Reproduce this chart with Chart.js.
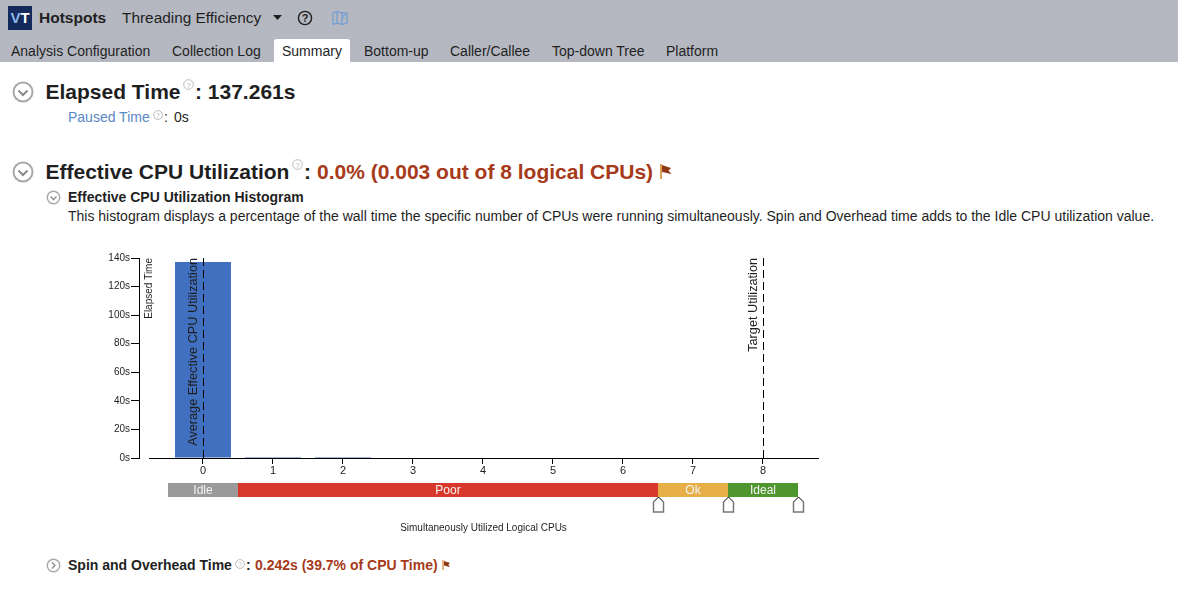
<!DOCTYPE html>
<html>
<head>
<meta charset="utf-8">
<title>Hotspots</title>
<script src="https://cdn.jsdelivr.net/npm/chart.js@4"></script>
<style>
    html, body { margin: 0; padding: 0; background: #fff; }
    body { width: 1178px; height: 597px; overflow: hidden; position: relative; font-family: "Liberation Sans", Arial, sans-serif; color: #1f1f1f; }
    .t { position: absolute; white-space: nowrap; line-height: 1; }
    .b { font-weight: bold; }
    .red { color: #a63a1a; }
    #topo { position: absolute; left: 0; top: 0; width: 1178px; height: 62px; background: #b5b8c1; }
    #aba-ativa { position: absolute; left: 274px; top: 39px; width: 76px; height: 23px; background: #fff; border-radius: 3px 3px 0 0; }
    #logo { position: absolute; left: 8px; top: 6px; width: 24px; height: 24px; background: #14295c; color: #fff; font-weight: bold; font-size: 15px; line-height: 24px; text-align: center; }
    #logo i { font-style: normal; color: #8fb8ea; }
    svg.ic { position: absolute; overflow: visible; }
    #grafico { position: absolute; left: 80px; top: 245px; }
</style>
</head>
<body>
<div id="topo"></div>
<div id="aba-ativa"></div>
<div id="logo"><i>V</i>T</div>
<span class="t b" style="left:39px;top:10px;font-size:15.5px">Hotspots</span>
<span class="t" style="left:122px;top:10px;font-size:15.4px">Threading Efficiency</span>
<svg class="ic" style="left:273px;top:15px" width="10" height="6"><path d="M0 0H9L4.5 5Z" fill="#1f1f1f"/></svg>
<svg class="ic" style="left:297px;top:10px" width="16" height="16"><circle cx="8" cy="8" r="6.6" fill="none" stroke="#1f1f1f" stroke-width="1.4"/><text x="8" y="12" font-size="11" font-weight="bold" text-anchor="middle" fill="#1f1f1f">?</text></svg>
<svg class="ic" style="left:332px;top:9px" width="16" height="16"><path d="M1 4L5 2.5V14L1 15.5ZM5 2.5L10 4V15.5L5 14M10 15.5L15 14V3" fill="none" stroke="#6f9bd6" stroke-width="1.2"/><text x="11.5" y="9" font-size="9" font-weight="bold" text-anchor="middle" fill="#6f9bd6">?</text></svg>

<span class="t" style="left:11px;top:44px;font-size:14px">Analysis Configuration</span>
<span class="t" style="left:172px;top:44px;font-size:14px">Collection Log</span>
<span class="t" style="left:282px;top:44px;font-size:14px">Summary</span>
<span class="t" style="left:364px;top:44px;font-size:14px">Bottom-up</span>
<span class="t" style="left:450px;top:44px;font-size:14px">Caller/Callee</span>
<span class="t" style="left:552px;top:44px;font-size:14px">Top-down Tree</span>
<span class="t" style="left:666px;top:44px;font-size:14px">Platform</span>

<svg class="ic" style="left:12px;top:81px" width="22" height="22"><circle cx="11" cy="11" r="9.5" fill="none" stroke="#a8a8a8" stroke-width="2"/><path d="M6.5 9.5L11 14L15.5 9.5" fill="none" stroke="#8a8a8a" stroke-width="2"/></svg>
<span class="t b" style="left:45.5px;top:81px;font-size:21px">Elapsed Time</span>
<svg class="ic" style="left:183px;top:79px" width="11" height="11"><circle cx="5.5" cy="5.5" r="4.8" fill="none" stroke="#bbb"/><text x="5.5" y="8.5" font-size="8" text-anchor="middle" fill="#bbb">?</text></svg>
<span class="t b" style="left:195px;top:81px;font-size:21px">: 137.261s</span>
<span class="t" style="left:68px;top:110px;font-size:14px;color:#5b87c5">Paused Time</span>
<svg class="ic" style="left:153px;top:110px" width="10" height="10"><circle cx="5" cy="5" r="4.4" fill="none" stroke="#bbb"/><text x="5" y="8" font-size="7" text-anchor="middle" fill="#bbb">?</text></svg>
<span class="t" style="left:164px;top:110px;font-size:14px">:</span>
<span class="t" style="left:174px;top:110px;font-size:14px">0s</span>

<svg class="ic" style="left:12px;top:161px" width="22" height="22"><circle cx="11" cy="11" r="9.5" fill="none" stroke="#a8a8a8" stroke-width="2"/><path d="M6.5 9.5L11 14L15.5 9.5" fill="none" stroke="#8a8a8a" stroke-width="2"/></svg>
<span class="t b" style="left:45.5px;top:161px;font-size:21px">Effective CPU Utilization</span>
<svg class="ic" style="left:292px;top:159px" width="11" height="11"><circle cx="5.5" cy="5.5" r="4.8" fill="none" stroke="#bbb"/><text x="5.5" y="8.5" font-size="8" text-anchor="middle" fill="#bbb">?</text></svg>
<span class="t b" style="left:304px;top:161px;font-size:21px">:</span>
<span class="t b red" style="left:317px;top:161px;font-size:21px">0.0% (0.003 out of 8 logical CPUs)</span>
<svg class="ic" style="left:660px;top:164px" width="13" height="16"><path d="M1 0V15" stroke="#d58a2a" stroke-width="1.6"/><path d="M2 1L11 4L8.5 6.5L11.5 10L2 8Z" fill="#8f3a16"/></svg>

<svg class="ic" style="left:46px;top:190px" width="15" height="15"><circle cx="7.5" cy="7.5" r="6.2" fill="none" stroke="#a8a8a8" stroke-width="1.4"/><path d="M4.5 6.5L7.5 9.5L10.5 6.5" fill="none" stroke="#8a8a8a" stroke-width="1.3"/></svg>
<span class="t b" style="left:68px;top:190px;font-size:14px">Effective CPU Utilization Histogram</span>
<span class="t" style="left:68px;top:209px;font-size:14px">This histogram displays a percentage of the wall time the specific number of CPUs were running simultaneously. Spin and Overhead time adds to the Idle CPU utilization value.</span>

<canvas id="grafico" width="760" height="300"></canvas>

<svg class="ic" style="left:46px;top:558px" width="15" height="15"><circle cx="7.5" cy="7.5" r="6.2" fill="none" stroke="#a8a8a8" stroke-width="1.4"/><path d="M6 4.5L9 7.5L6 10.5" fill="none" stroke="#8a8a8a" stroke-width="1.3"/></svg>
<span class="t b" style="left:68px;top:558px;font-size:14px">Spin and Overhead Time</span>
<svg class="ic" style="left:235px;top:559px" width="10" height="10"><circle cx="5" cy="5" r="4.4" fill="none" stroke="#bbb"/><text x="5" y="8" font-size="7" text-anchor="middle" fill="#bbb">?</text></svg>
<span class="t b" style="left:246px;top:558px;font-size:14px">:</span>
<span class="t b red" style="left:255px;top:558px;font-size:14px">0.242s (39.7% of CPU Time)</span>
<svg class="ic" style="left:442px;top:560px" width="9" height="11"><path d="M1 0V10" stroke="#d58a2a" stroke-width="1.2"/><path d="M2 1L8 3L6.3 4.5L8 7L2 5.5Z" fill="#8f3a16"/></svg>

<script>
const cpus = [0, 1, 2, 3, 4, 5, 6, 7, 8];
const elapsedSeconds = [137.26, 0.7, 0.7, 0, 0, 0, 0, 0, 0];
const yTicks = [0, 20, 40, 60, 80, 100, 120, 140];

const zoneNames = ['Idle', 'Poor', 'Ok', 'Ideal'];
const zoneStarts = [-0.5, 0.5, 6.5, 7.5];
const zoneEnds = [0.5, 6.5, 7.5, 8.5];
const zoneColors = ['#9a9a9a', '#d8372c', '#e8ae48', '#4f962e'];
const zoneMarkers = [6.5, 7.5, 8.5];

const averageUtilization = 0.003;
const targetUtilization = 8;

const FONT = '"Liberation Sans", Arial, sans-serif';

function textoVertical(ctx, texto, x, yTopo, fonte) {
    ctx.save();
    ctx.translate(x, yTopo);
    ctx.rotate(-Math.PI / 2);
    ctx.font = fonte;
    ctx.textAlign = 'right';
    ctx.textBaseline = 'alphabetic';
    ctx.fillStyle = '#1f1f1f';
    ctx.fillText(texto, 0, 0);
    ctx.restore();
}

// eixo x, linhas tracejadas e faixa de zonas
const extras = {
    id: 'extras',
    afterDraw(chart) {
        const { ctx, chartArea, scales } = chart;
        const xs = scales.x;
        const base = scales.y.getPixelForValue(0);

        ctx.save();
        ctx.strokeStyle = '#000';
        ctx.lineWidth = 1;
        ctx.beginPath();
        ctx.moveTo(chartArea.left + 10, base + 0.5);
        ctx.lineTo(chartArea.right, base + 0.5);
        ctx.stroke();

        ctx.setLineDash([8, 4]);
        [averageUtilization, targetUtilization].forEach(v => {
            const px = Math.round(xs.getPixelForValue(v)) + 0.5;
            ctx.beginPath();
            ctx.moveTo(px, chartArea.top);
            ctx.lineTo(px, base);
            ctx.stroke();
        });
        ctx.setLineDash([]);

        textoVertical(ctx, 'Average Effective CPU Utilization', xs.getPixelForValue(averageUtilization) - 6, chartArea.top, '12.7px ' + FONT);
        textoVertical(ctx, 'Target Utilization', xs.getPixelForValue(targetUtilization) - 6, chartArea.top, '12.7px ' + FONT);
        textoVertical(ctx, 'Elapsed Time', chartArea.left + 13, chartArea.top, '10px ' + FONT);

        const zonaTopo = base + 25;
        zoneNames.forEach((nome, i) => {
            const x0 = xs.getPixelForValue(zoneStarts[i]);
            const x1 = xs.getPixelForValue(zoneEnds[i]);
            ctx.fillStyle = zoneColors[i];
            ctx.fillRect(x0, zonaTopo, x1 - x0, 14);
            ctx.fillStyle = '#f4f4f4';
            ctx.font = '12px ' + FONT;
            ctx.textAlign = 'center';
            ctx.textBaseline = 'middle';
            ctx.fillText(nome, (x0 + x1) / 2, zonaTopo + 7.5);
        });

        zoneMarkers.forEach(v => {
            const px = Math.round(xs.getPixelForValue(v)) + 0.5;
            const y0 = zonaTopo + 14;
            ctx.strokeStyle = '#777';
            ctx.lineWidth = 1.5;
            ctx.beginPath();
            ctx.moveTo(px - 5, y0 + 5);
            ctx.lineTo(px - 5, y0 + 15);
            ctx.lineTo(px + 5, y0 + 15);
            ctx.lineTo(px + 5, y0 + 5);
            ctx.stroke();
            ctx.strokeStyle = '#000';
            ctx.lineWidth = 1;
            ctx.beginPath();
            ctx.moveTo(px - 5, y0 + 5);
            ctx.lineTo(px, y0);
            ctx.lineTo(px + 5, y0 + 5);
            ctx.stroke();
        });

        ctx.fillStyle = '#1f1f1f';
        ctx.font = '10px ' + FONT;
        ctx.textAlign = 'center';
        ctx.textBaseline = 'middle';
        ctx.fillText('Simultaneously Utilized Logical CPUs', (chartArea.left + chartArea.right) / 2 + 4.5, base + 70);
        ctx.restore();
    }
};

new Chart(document.getElementById('grafico').getContext('2d'), {
    type: 'bar',
    data: {
        datasets: [{
            data: cpus.map((c, i) => ({ x: c, y: elapsedSeconds[i] })),
            backgroundColor: '#4070bf',
            categoryPercentage: 0.8,
            barPercentage: 1
        }]
    },
    options: {
        responsive: false,
        animation: false,
        layout: { padding: { left: 0, top: 13, right: 21, bottom: 0 } },
        plugins: { legend: { display: false }, tooltip: { enabled: false } },
        scales: {
            x: {
                type: 'linear',
                offset: false,
                min: -0.914,
                max: 8.8,
                afterBuildTicks(axis) { axis.ticks = cpus.map(value => ({ value })); },
                afterFit(axis) { axis.height = 87; },
                border: { display: false },
                grid: { offset: false, drawOnChartArea: false, color: '#000', tickLength: 6 },
                ticks: { color: '#1f1f1f', font: { family: FONT, size: 11 }, padding: 0, autoSkip: false, maxRotation: 0, callback: v => String(v) }
            },
            y: {
                min: 0,
                max: 140,
                afterBuildTicks(axis) { axis.ticks = yTicks.map(value => ({ value })); },
                afterFit(axis) { axis.width = 59; },
                border: { display: true, color: '#000' },
                grid: { drawOnChartArea: false, color: '#000', tickLength: 8 },
                ticks: { color: '#1f1f1f', font: { family: FONT, size: 10 }, padding: 1, callback: v => v + 's' }
            }
        }
    },
    plugins: [extras]
});
</script>
</body>
</html>
